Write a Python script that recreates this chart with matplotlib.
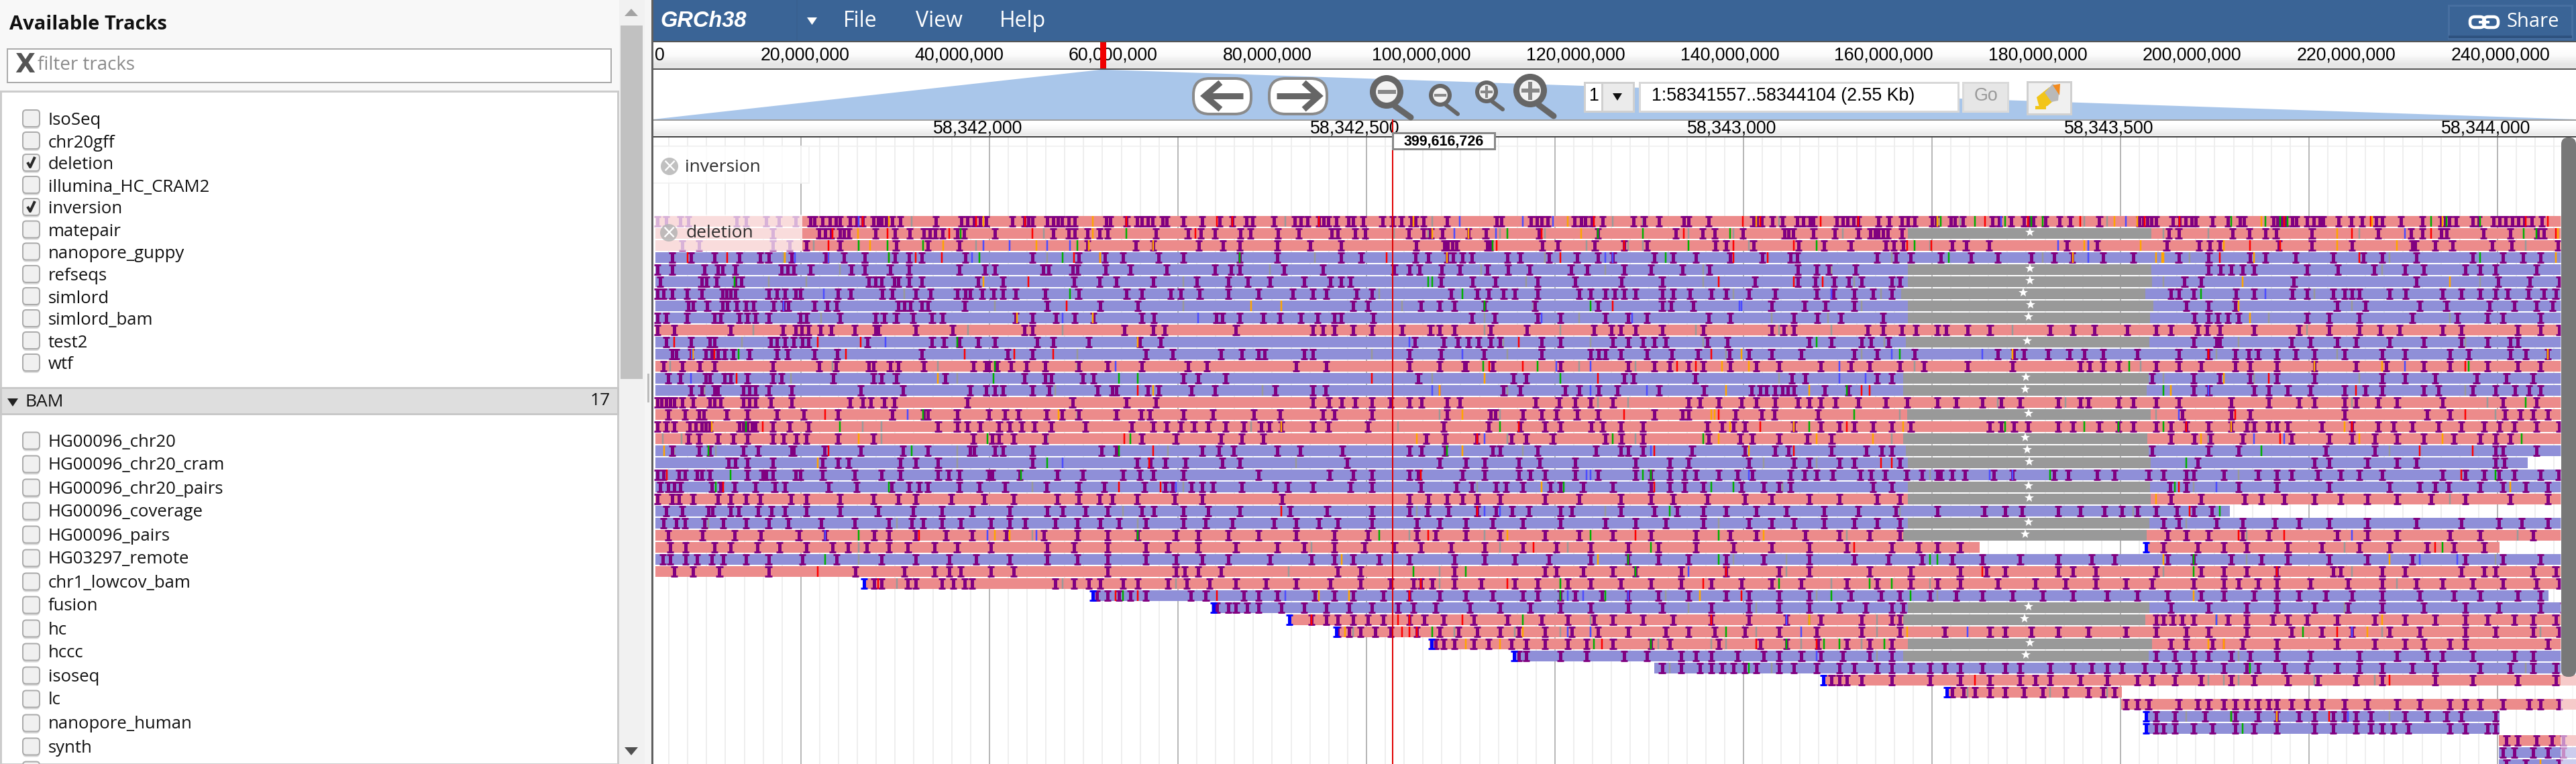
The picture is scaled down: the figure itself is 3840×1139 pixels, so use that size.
import numpy as np
import matplotlib
matplotlib.use('Agg')
import matplotlib.pyplot as plt
from matplotlib.patches import Rectangle, FancyBboxPatch, Circle, Polygon

# ---- data, positions are bp from VIEW_START
VIEW_START = 58341557
VIEW_END = 58344104
GENOME_TICKS = [0, 20000000, 40000000, 60000000, 80000000, 100000000, 120000000,
                140000000, 160000000, 180000000, 200000000, 220000000, 240000000]
SCALE_TICKS = [58342000, 58342500, 58343000, 58343500, 58344000]
CURSOR_LABEL = '399,616,726'
LOCATION = '1:58341557..58344104 (2.55 Kb)'

TRACKS = ['IsoSeq', 'chr20gff', 'deletion', 'illumina_HC_CRAM2', 'inversion', 'matepair',
          'nanopore_guppy', 'refseqs', 'simlord', 'simlord_bam', 'test2', 'wtf']
CHECKED = ['deletion', 'inversion']
BAM_TRACKS = ['HG00096_chr20', 'HG00096_chr20_cram', 'HG00096_chr20_pairs', 'HG00096_coverage',
              'HG00096_pairs', 'HG03297_remote', 'chr1_lowcov_bam', 'fusion', 'hc', 'hccc',
              'isoseq', 'lc', 'nanopore_human', 'synth']

# row, strand, start, end
READS = [(0,'r',0,2548),(1,'r',0,2548),(2,'r',0,2548),(3,'b',0,2548),(4,'b',0,2548),(5,'b',0,2548),
         (6,'b',0,2548),(7,'b',0,2548),(8,'b',0,2548),(9,'r',0,2548),(10,'b',0,2548),(11,'b',0,2548),
         (12,'r',0,2548),(13,'b',0,2548),(14,'b',0,2548),(15,'r',0,2548),(16,'r',0,2548),(17,'r',0,2548),
         (18,'r',0,2548),(19,'b',0,2548),(20,'b',0,2483),(21,'b',0,2548),(22,'b',0,2548),(23,'r',0,2548),
         (24,'b',0,2088),(25,'b',0,2548),(26,'r',0,2548),(27,'r',0,1756),(27,'r',1975,2446),(28,'b',0,2548),
         (29,'r',0,2548),(30,'r',275,2548),(31,'b',578,2511),(32,'b',738,2548),(33,'r',839,2548),
         (34,'r',901,2548),(35,'r',1027,2548),(36,'b',1137,2548),(37,'b',1325,2548),(38,'r',1547,2548),
         (39,'r',1711,1945),(40,'r',1944,2548),(41,'b',1975,2446),(42,'b',1975,2446),(43,'r',2445,2548),
         (44,'b',2445,2548),(45,'b',2445,2548)]
READ_CAPS = [(27,1975),(30,275),(31,578),(32,738),(33,839),(34,901),(35,1027),(36,1137),
             (38,1547),(39,1711),(41,1975),(42,1975)]
# row, deletion start, deletion end
DELETIONS = [(1,1661,1984),(4,1661,1984),(5,1661,1985),(6,1652,1976),(7,1661,1987),(8,1661,1982),
             (10,1658,1981),(13,1655,1980),(14,1655,1978),(16,1660,1983),(18,1655,1979),(19,1658,1980),
             (20,1661,1983),(22,1661,1982),(23,1661,1983),(25,1661,1981),(26,1655,1978),(32,1661,1981),
             (33,1655,1976),(35,1661,1985),(36,1655,1980)]

INSERTIONS = [
 [3,14,33,44,108,120,147,164,186,206,211,222,231,239,245,258,267,275,289,295,300,306,314,325,372,406,414,423,431,439,473,489,495,500,520,528,534,539,548,556,598,603,625,639,645,653,659,673,678,700,725,748,765,784,792,820,848,856,865,880,886,892,903,919,925,939,964,978,989,1003,1008,1019,1050,1116,1122,1161,1169,1175,1183,1219,1228,1233,1242,1256,1297,1311,1331,1364,1370,1397,1456,1461,1467,1481,1495,1514,1522,1531,1536,1567,1575,1581,1589,1595,1622,1636,1653,1661,1670,1693,1698,1718,1723,1734,1773,1782,1798,1815,1822,1827,1843,1862,1876,1915,1968,1973,1979,1984,1990,2012,2021,2029,2037,2043,2065,2085,2101,2107,2146,2151,2157,2162,2171,2176,2190,2199,2207,2212,2232,2249,2263,2282,2290,2315,2343,2368,2374,2379,2388,2410,2418,2438,2446,2454,2463,2471,2479,2488,2502],
 [156,217,225,233,245,250,256,292,318,337,356,364,371,381,400,409,450,528,548,556,573,589,600,664,706,723,742,776,789,826,853,897,905,928,941,999,1019,1028,1044,1078,1101,1172,1250,1353,1389,1405,1442,1497,1503,1509,1536,1564,1595,1611,1617,1622,1628,1634,1653,2007,2020,2092,2114,2135,2149,2197,2285,2328,2343,2368,2375,2424,2460,2496,2504],
 [36,58,156,178,200,245,319,361,403,573,637,660,721,753,775,825,868,909,1009,1046,1051,1057,1062,1103,1107,1176,1197,1246,1285,1315,1406,1420,1456,1516,1550,1585,1632,1642,1655,1720,1738,1769,1872,1912,2004,2047,2061,2075,2153,2197,2250,2330,2334,2360,2383,2436,2462,2523],
 [22,47,78,111,139,150,181,226,250,278,278,318,336,353,411,500,561,596,620,667,700,775,825,909,936,1008,1025,1050,1058,1070,1083,1130,1147,1185,1222,1250,1270,1325,1350,1380,1425,1468,1505,1514,1620,1645,1665,1705,1745,1780,1825,1855,1879,1920,1960,2020,2060,2115,2135,2175,2225,2265,2290,2335,2410,2450,2477,2500],
 [3,22,65,83,89,106,167,175,183,206,260,278,311,336,403,437,450,514,521,553,560,597,630,678,742,763,775,834,885,980,1000,1013,1043,1067,1103,1131,1159,1214,1236,1285,1320,1362,1398,1515,1540,1556,1592,2060,2076,2090,2105,2120,2190,2231,2279,2320,2345,2400,2420,2440,2495],
 [6,61,68,81,106,114,283,292,300,317,322,336,353,428,461,555,589,611,660,718,760,786,815,860,895,909,922,1042,1084,1114,1170,1220,1281,1335,1458,1515,1538,1563,1583,1600,1640,1650,1668,1690,2028,2050,2173,2335,2444,2486,2525],
 [3,11,22,42,61,89,94,100,106,150,161,172,186,192,242,259,301,314,345,365,400,411,417,433,448,461,478,517,561,625,645,683,697,722,760,800,845,872,890,930,950,1055,1090,1105,1125,1140,1170,1225,1240,1260,1272,1285,1300,1335,1350,1372,1400,1420,1450,1485,1540,1562,1590,1615,1640,1690,1790,1812,2010,2020,2040,2096,2120,2171,2190,2225,2240,2250,2260,2300,2321,2370,2395,2420,2440,2456,2484,2504,2520],
 [44,50,69,89,95,108,120,130,157,170,176,211,228,240,322,330,338,353,361,410,520,590,640,925,945,1015,1040,1060,1100,1166,1250,1335,1347,1376,1480,1524,1552,1590,2030,2060,2095,2230,2268,2340,2375,2432,2465,2495,2516],
 [3,14,42,78,86,111,122,133,150,192,200,245,292,303,319,342,367,381,478,500,531,556,581,645,661,744,752,775,806,828,856,878,900,909,952,1083,1113,1170,1200,1260,1290,1315,1397,1425,1510,1541,1572,1628,2041,2060,2072,2085,2100,2190,2220,2260,2330,2390,2430,2450,2500],
 [3,25,100,169,186,194,203,219,233,264,292,295,345,394,489,500,622,660,675,770,872,885,900,925,950,990,1028,1040,1060,1108,1156,1245,1268,1280,1300,1335,1390,1480,1496,1510,1608,1628,1653,1672,1700,1712,1740,1770,1850,1880,1908,1952,1990,2010,2045,2058,2075,2120,2180,2220,2260,2287,2313,2370,2395,2470,2500,2525],
 [14,47,72,78,153,161,172,183,195,203,281,367,383,403,428,450,506,528,575,642,670,1007,1045,1064,1078,1092,1108,1120,1175,1200,1270,1290,1310,1325,1340,1395,1422,1530,1560,1600,1612,1635,1675,1700,1710,1775,1825,1860,1900,1930,1965,2040,2070,2075,2170,2195,2230,2255,2300,2345,2395,2430,2460,2470],
 [22,28,47,67,75,83,92,103,125,161,175,211,241,353,467,500,650,686,750,778,800,808,860,872,1000,1042,1099,1175,1175,1240,1251,1260,1280,1315,1348,1383,1424,1450,1480,1520,1590,1620,1670,1780,1802,1815,1847,1875,1895,1920,1965,2020,2060,2095,2113,2125,2150,2175,2200,2240,2290,2320,2380,2405,2460,2480,2510],
 [11,36,59,78,156,217,239,283,289,311,322,356,442,422,439,453,472,492,517,561,600,645,706,731,850,890,1000,1040,1073,1075,1110,1200,1290,1325,1345,1370,1390,1425,1460,1490,1545,1585,1610,1650,1682,1740,1800,1890,1902,1920,1940,1990,2020,2050,2095,2115,2150,2200,2255,2295,2345,2380,2430,2470,2500],
 [17,33,67,72,92,100,122,156,167,236,289,300,319,384,489,517,525,567,581,700,720,756,1012,1138,1155,1285,1297,1379,1507,1525,1620,1640,1659,1665,1745,1790,1820,1855,1875,1922,1960,1985,2040,2075,2115,2150,2200,2290,2320,2360,2415,2455,2490],
 [47,61,78,83,117,125,133,150,181,272,328,417,439,450,461,500,522,586,606,611,653,667,711,742,822,872,889,1125,1147,1206,1225,1251,1276,1331,1391,1454,1465,1473,1485,1495,1502,1510,1551,1582,1660,1720,1730,1765,1790,1812,1835,1860,1870,1960,2040,2060,2120,2140,2165,2195,2240,2268,2290,2345,2365,2410,2440,2466,2485,2500],
 [3,8,14,20,25,36,50,72,78,86,117,125,133,153,181,258,275,286,303,317,414,553,625,664,872,893,910,928,950,975,1000,1016,1050,1067,1167,1198,1220,1240,1270,1370,1385,1410,1440,1460,1485,1515,1530,1545,1565,1595,1632,1660,1700,1725,1760,1785,1810,1860,1890,1900,1940,1960,1990,2020,2090,2140,2180,2200,2240,2255,2285,2310,2370,2450,2495,2550],
 [17,39,58,64,94,122,161,197,242,314,314,356,361,400,442,464,481,519,539,561,611,644,656,700,739,794,828,885,900,950,1050,1108,1114,1150,1175,1195,1222,1250,1325,1362,1370,1432,1467,1484,1542,2025,2090,2115,2240,2350,2380,2453,2473,2490,2510],
 [3,14,25,45,53,61,67,72,111,117,122,128,133,156,178,203,375,400,414,431,456,470,486,503,525,570,632,660,678,697,714,733,756,780,803,814,830,872,892,945,1045,1105,1147,1180,1200,1241,1256,1280,1310,1395,1415,1430,1445,1510,1545,1570,1590,1615,1640,1665,1770,1770,1785,1802,1820,1860,1880,1915,1940,1960,1990,2010,2030,2060,2090,2110,2120,2140,2150,2165,2210,2250,2285,2305,2330,2365,2395,2425,2446,2465,2495,2525],
 [44,58,83,103,122,156,170,187,200,242,289,422,447,456,475,517,645,690,750,778,806,1022,1047,1089,1135,1155,1190,1260,1281,1310,1397,1439,1455,1490,1528,1560,2010,2041,2062,2105,2170,2220,2250,2280,2310,2345,2385,2420,2440,2460],
 [22,58,72,117,136,181,183,224,272,328,361,417,423,450,461,500,592,611,725,747,767,825,855,911,1000,1016,1047,1110,1120,1170,1247,1280,1290,1310,1375,1445,1485,1503,1560,1606,1626,1640,1672,1760,1810,1830,1880,1910,1985,2060,2100,2215,2280,2440,2450,2495],
 [97,106,122,156,222,242,256,325,345,375,500,639,657,676,703,752,775,917,1040,1075,1100,1145,1173,1220,1300,1345,1370,1450,1510,1530,1570,1590,1650,1706,1730,1768,1874,1922,2045,2200,2220,2270,2310,2335,2440,2452],
 [3,11,31,39,55,61,72,122,142,147,156,186,192,222,264,300,325,375,389,403,442,447,483,533,567,620,642,660,700,800,894,925,950,1000,1012,1070,1100,1145,1160,1180,1220,1250,1300,1320,1345,1365,1380,1410,1435,1455,1505,1524,1540,1561,1598,1612,1631,1659,1680,1700,1705,1720,1737,1775,1800,1855,1874,1912,1935,1980,2000,2030,2040,2080,2125,2150,2170,2205,2235,2260,2290,2370,2400,2425,2445,2465,2500,2524],
 [6,17,25,33,75,86,105,133,158,172,230,267,313,336,350,361,403,430,464,519,561,595,649,676,686,711,725,739,778,822,839,872,922,950,1015,1062,1083,1115,1128,1150,1187,1200,1230,1270,1320,1345,1365,1390,1440,1470,1490,1505,1615,1640,1668,1710,1727,1782,1860,1925,1970,2009,2030,2100,2150,2220,2300,2340,2360,2378,2420,2450,2480,2510],
 [3,22,31,50,83,100,120,139,180,200,245,289,322,345,392,436,475,533,561,589,606,639,689,725,831,1000,1025,1050,1070,1090,1120,1180,1225,1280,1320,1350,1395,1445,1480,1530,1570,1620,1650,1670,1710,1755,1790,1810,1830,1870,1890,1915,1945,1970,2010,2050,2108,2130,2160,2200,2235,2270,2310,2355,2400,2460,2510],
 [14,36,70,76,100,110,136,154,172,200,245,295,342,380,420,470,520,540,570,600,645,661,700,733,775,842,891,950,1000,1024,1052,1090,1115,1136,1158,1200,1215,1280,1325,1355,1390,1420,1460,1500,1550,1595,1645,1700,1762,1790,1812,1860,1890,1922,1945,1965,1990,2018,2040,2064],
 [11,28,39,65,90,120,150,176,220,264,310,340,355,380,405,445,470,490,530,560,590,615,650,700,730,765,820,850,880,905,950,1010,1040,1075,1110,1150,1200,1260,1300,1340,1390,1450,1480,1510,1550,1590,1620,1650,2000,2020,2070,2105,2148,2180,2220,2270,2335,2395,2445,2475,2510],
 [17,62,105,140,190,225,290,310,345,385,420,465,515,560,600,640,690,720,760,800,850,900,945,1010,1035,1075,1120,1180,1225,1270,1320,1380,1425,1460,1525,1570,1610,1650,2005,2030,2060,2105,2140,2230,2270,2310,2380,2420,2490],
 [20,40,78,100,135,165,200,235,255,280,310,335,370,400,445,520,555,600,650,680,720,770,825,860,900,940,980,1015,1055,1100,1150,1195,1240,1290,1330,1380,1430,1480,1530,1580,1640,1675,1700,1730,2000,2045,2080,2110,2165,2210,2260,2300,2350,2385,2425],
 [10,20,40,55,75,90,120,150,195,240,300,345,390,425,470,520,560,600,650,690,725,760,815,870,900,925,960,1000,1060,1100,1140,1185,1240,1290,1330,1370,1420,1470,1530,1590,1635,1680,1720,1760,1810,1860,1905,1935,2005,2040,2090,2130,2165,2220,2270,2330,2400,2450,2500],
 [25,50,85,150,265,330,370,390,405,445,475,600,690,702,720,750,905,935,1060,1180,1195,1230,1270,1300,1360,1420,1490,1530,1610,1665,1730,1765,1790,1860,1880,1910,1990,2050,2080,2110,2150,2225,2235,2290,2320,2395,2425,2440,2490,2520],
 [1015,290,300,335,345,380,395,410,420,530,555,575,590,620,640,680,705,735,770,810,850,895,935,975,1005,1030,1060,1095,1140,1170,1210,1240,1280,1320,1360,1400,1440,1480,1520,1580,1620,1665,1700,1730,1780,1830,1870,1910,1950,1985,2040,2080,2100,2125,2150,2195,2245,2290,2335,2370,2410,2450,2495,2525],
 [585,600,615,630,650,710,730,780,800,825,875,900,925,965,1000,1040,1075,1110,1150,1170,1200,1220,1255,1290,1330,1370,1420,1450,1490,1530,1585,1625,1650,1690,1725,1760,1800,1840,1880,1925,1965,2005,2050,2080,2120,2150,2180,2215,2250,2290,2340,2385,2420,2470,2500],
 [745,760,770,785,800,830,860,890,920,950,985,1005,1035,1080,1120,1160,1200,1240,1290,1335,1400,1450,1490,1530,1570,1605,1640,1655,2010,2060,2110,2150,2200,2245,2290,2345,2400,2445,2500,2530],
 [870,890,905,925,945,965,1000,1020,1045,1085,1130,1175,1210,1245,1270,1310,1350,1400,1450,1500,1545,1600,1640,1650,1990,2000,2012,2025,2040,2085,2110,2145,2165,2190,2230,2280,2320,2360,2400,2430,2465,2490,2520],
 [905,920,935,955,975,1010,1040,1065,1090,1120,1145,1180,1215,1250,1290,1340,1370,1405,1445,1490,1540,1600,1650,1710,1770,1790,1825,1860,1900,1950,1990,2030,2060,2110,2170,2210,2250,2300,2340,2400,2440,2490,2525],
 [1035,1045,1060,1085,1105,1135,1155,1180,1210,1235,1270,1320,1345,1410,1465,1500,1542,1580,1610,1640,2010,2030,2065,2105,2150,2230,2280,2320,2345,2380,2400,2510],
 [1145,1155,1200,1235,1285,1315,1360,1380,1400,1435,1470,1490,1520,1545,1575,1610,1640,1990,2015,2040,2060,2090,2115,2150,2195,2260,2310,2350,2370,2410,2465,2490],
 [1335,1360,1385,1400,1415,1430,1445,1460,1490,1510,1540,1570,1590,1620,1640,1665,1690,1710,1730,1760,1790,1810,1850,1880,1905,1925,1945,1975,2000,2020,2040,2080,2110,2125,2160,2190,2230,2260,2290,2330,2360,2420,2460,2490,2520],
 [1560,1570,1580,1600,1640,1690,1730,1770,1810,1830,1850,1890,1925,1965,1985,2015,2050,2090,2120,2165,2205,2255,2290,2360,2410,2470,2520],
 [1720,1735,1750,1770,1790,1815,1840,1870,1900,1920,1935],
 [1950,1965,1980,2020,2045,2060,2080,2095,2110,2125,2140,2150,2170,2190,2210,2240,2270,2310,2340,2380,2400,2420,2450,2485,2500,2525],
 [1990,2015,2055,2095,2125,2150,2180,2200,2225,2240,2255,2275,2320,2350,2375,2395,2440],
 [1990,2000,2015,2040,2065,2095,2120,2150,2200,2225,2255,2275,2290,2305,2325,2380,2400,2430,2440],
 [2455,2470,2495,2515,2530],
 [2450,2465,2490,2510,2530],
 [2455,2480,2525],
]

SNP_RED = {0:[275,425,490,625,745,765,880,1005,1245,1442,1465,1545,1595,1763,1820,1890,1975,2021,2160,2275,2480,2510],
           1:[235,308,390,500,716,1175,1364,2250,2355,2520],2:[230,1116,1285,1430,1510,1660,1692,2115,2155],
           3:[43,95,310,345,380,555,590,970,1200,1430,1475,2075,2260],5:[495,1410,1510,1548],
           7:[545,1740,1270],10:[25,215,272,1145,1750],11:[47,78,253,410,476,528,1400,2060],
           12:[1106,1150,1355,1380,2400],13:[108,950,1250,2140],14:[640,1040,1610,1600,2255],
           16:[225,1285,1410,2095,2400],17:[142,1145,1465,1580,2030,2250],18:[622,1090,1980,2155],
           19:[230,660,1325,1510,2340,2410],20:[655,1640,1625],21:[15,1015,2395],22:[90,615,670,1325,2020],
           24:[2035,830,1090],26:[350,1025,1300,2100,2160],27:[1590,1165,2360],29:[215,1420,1760,2150],
           30:[295,1015,1130,1390],31:[610,640,745,1000,1440],33:[870,985,1000,1070,1400],34:[990,1000,1010,2230],
           35:[1255,1460,1540,2080],38:[1750,2300],41:[2090,2220]}
SNP_GREEN = {0:[1700,1705,1750,1790,1825,1840,2090,2135,2155,2165,2355,2375,2420],1:[405,625,1130,1250,1310,1425,1960,2478,2495],
             2:[270,308,355,560,1110,1370,1540,1670],3:[310,430,540,775,1340,1715,2420],5:[105,1025,1030,1725],
             6:[1070,550,2050],7:[1100,1240],10:[400,1540],11:[110,1650],12:[450,1098,1170,1955,2405],13:[448,615,640,1200],
             14:[1580,2000],15:[2480],16:[355,1590],17:[120,245,1120,1530,1790,1895,1940,2000],18:[440,630,1270,1390,1845,2475],
             19:[70,340,615,1745,1050,2130],20:[520,2030],21:[100,485,1310,1320,1850,2440],22:[80,310,1205,1430,1400,2015],
             24:[1345,2075,2120],26:[270,640,960,1240,1410,1830],27:[1320,2370,2480],28:[225,1290,1410,1690,1700,2040],
             29:[1005,1075,1300,2040],30:[1200,1490,1610,1640],31:[620,1200,1260,1665,1560],33:[1150,1530,1740,2070],
             34:[1030,1420,2185],35:[1245,1320,1500,1630,1550,1570],37:[1450,2115],41:[2090],42:[2105]}
SNP_ORANGE = {0:[310,435,580,1005,1210,1460,1700,1935,1965,2130,2277,2370],1:[269,580,1030,1078,1228,2230,2523],2:[285,382,505,575,660,1970,1895,2080,2230,2310],
              3:[172,230,590,1050,1880,1990,1998,2000,2120,2520],5:[435,2105,2380],7:[790,830,1750,1925,2100,1930],
              8:[480,580,2115],10:[640,1680],11:[50,1440,1800,2510],12:[1415,1450,2200,2290],13:[375,1100,2080],
              14:[660,1040,1420,1530,1780,2010],16:[535,1070,1400,1405],17:[75,830,1425,1510,1655,2090,2240],
              18:[270,1010,1410,1540,1615,1690,2050,2260,2370],19:[12,1070,1450,1700],20:[215,1760,1800,1800],
              22:[1175,1770,2460],23:[1990],26:[450,470,1130,1470],28:[910,1250,2000,2300],31:[920,880,1385,2040],
              33:[1530,1825,1740,2290],34:[915,1150,1660,2270],35:[1075,1120,2060,2080],41:[2150],45:[2500]}
SNP_BLUE = {0:[270,1067,1150,1190,1785,1950],1:[1060,1115,1725,2320],2:[435,470,520,550,1860,1900],3:[185,230,420,1260,1270,1900],
            6:[223,1560,2135],7:[170,1438,1440],8:[540,720,1175,1295,1870],10:[305,1000],11:[48,1070,1640,1760],
            12:[610,1195,1240,1570,2320],13:[47,1570,1605,1830],14:[1030,1240,1315,2060],16:[335,2020],18:[1100,1780,2120,2160],
            19:[1320,1935],20:[540],21:[1240,1235,1770,1800,1450],22:[690,2070],24:[1100,1120],26:[225,440,505,2250],
            28:[2340,2390],29:[1370],31:[835,1210,1230,1290],33:[1500,1875,2070],34:[1210,1240,1520,1740,2250],36:[1540],41:[2245]}
GRAY_TICKS = {0:[340,640,835,1030,1185,1210,1270,1310,1490,1730,1895,1925],1:[515,980,1025,1180,1115,1120,1370,1430,1575,2000,2060,2260],
              2:[210,270,425,720,1235,1290,1310,1450,1690,1770,1900,2480],3:[170,520,700,875,1180,1640,1840,2035,2300],
              4:[245,815,1095,1260,1390,1560,2290,2400],5:[150,200,700,1155,1390,1590,2000,2420],6:[330,960,1430,1540,1625,2200],
              7:[450,700,990,1165,1480,1600,1990,2250],8:[220,1100,1225,1480,1555,2140,2380],9:[130,415,540,1100,1200,1380,1490,1560,1770,1800,2190],
              10:[115,400,1125,1240,1390,1630,2100,2400],11:[240,560,950,1130,1420,1600,2070,2230],12:[20,235,375,560,1225,1300,1670,1970],
              13:[180,400,1030,1490,1670,2000,2120,2260],14:[65,530,805,1130,1610,2010,2400],15:[1250,1290,1530,1780,1870,2250,2430],
              16:[560,740,950,1040,1120,1250,1650,1990,2440],17:[205,275,300,790,985,1180,1545],18:[10,35,300,520,1130,1300,1640,1900,2060,2220],
              19:[25,80,400,680,1000,1150,1640,1970,2300],20:[400,850,1470,1540],21:[300,1100,1250,1690,2100],22:[500,700,1090,1495,2040,2480],
              23:[1530,1800,2050,2380],24:[620,1000,1010,1160,1260,1650,1960],25:[70,320,640,1300,1410,2030],26:[500,1000,1100,1580,2110,2470],
              27:[270,870,1120,1195,1210,1640,2240],28:[270,1000,1430,1500,1690,2110,2440],29:[840,1040,1500,2000,2080,2250],
              30:[320,540,690,1040,1200,1560,1690,2310],31:[780,900,1340,1420,1540,1700,2050],32:[950,1370,1460,1680,2240],
              33:[1020,1000,1240,1270,1620,2400],34:[925,1060,1140,1200,1240,1290,1460,1620,2290,2500],
              35:[1270,1330,1400,1420,1520,1600,1640,2380],36:[1470,1490,1620,1910,2100],37:[1345,1480,1640,1760,2420,2480],38:[1570,1690,1810,2060,2080,2100,2200,2280],
              39:[1740,1850,1925],40:[2150,2400],41:[2030,2300],42:[2200]}

ROW_H = 16 / 18.0
COL_STRAND = {'r': '#EC8B8B', 'b': '#8F8FD8'}
PURPLE = '#800080'
FONT_UI = 'Open Sans'
FONT_NUM = 'Liberation Sans'
W, H = 3841, 1139


def px(n):
    # pixels to points at dpi 100
    return n * 0.72


def on_read(row, xs):
    # drop marks that fall in a deletion or outside the read
    keep = []
    spans = [(s, e) for r, _, s, e in READS if r == row]
    gaps = [(s, e) for r, s, e in DELETIONS if r == row]
    for x in xs:
        inside = any(s <= x <= e for s, e in spans)
        gone = any(s - 3 <= x <= e + 3 for s, e in gaps)
        if inside and not gone:
            keep.append(x)
    return np.array(keep)


fig = plt.figure(figsize=(W / 100.0, H / 100.0), dpi=100, facecolor='white')


def axes_px(x0, y0, x1, y1, **kw):
    return fig.add_axes([x0 / W, 1 - y1 / H, (x1 - x0) / W, (y1 - y0) / H], **kw)


# ---- pileup
ax = axes_px(973, 205, 3841, 1139, zorder=1)
ax.set_xlim(-3.5, 2548)
ax.set_ylim(44.94, -6.94)
for s in ax.spines.values():
    s.set_visible(False)
ax.set_yticks([])
first = VIEW_START - VIEW_START % 25 + 25
grid_bp = np.arange(first, VIEW_END + 1, 25) - VIEW_START
major_bp = [b for b in grid_bp if (b + VIEW_START) % 250 == 0]
ax.set_xticks(major_bp)
ax.set_xticks(grid_bp, minor=True)
ax.tick_params(which='both', length=0, labelbottom=False)
ax.xaxis.grid(True, which='minor', color='#EEEEEE', lw=px(2))
ax.xaxis.grid(True, which='major', color='#B8B8B8', lw=px(2))
ax.set_axisbelow(True)
ax.axhline(-6.2, color='#F2F2F2', lw=px(2), zorder=0.5)

for row, strand, start, end in READS:
    ax.barh(row, end - start, left=start, height=ROW_H, color=COL_STRAND[strand], lw=0, zorder=2)

for row, ticks in GRAY_TICKS.items():
    ax.vlines(on_read(row, ticks), row - ROW_H / 2, row + ROW_H / 2, color='#999999', lw=px(2.5), zorder=2.5,
              capstyle='butt')

for row, del_start, del_end in DELETIONS:
    ax.barh(row, del_end - del_start, left=del_start, height=ROW_H, color='#999999', lw=0, zorder=3)

cap_off = ROW_H / 2 - 0.075
for row, xs in enumerate(INSERTIONS):
    xs = on_read(row, xs)
    ax.vlines(xs, row - ROW_H / 2, row + ROW_H / 2, color=PURPLE, lw=px(5), zorder=4, capstyle='butt')
    for y in (row - cap_off, row + cap_off):
        ax.hlines(np.full(len(xs), y), xs - 4.5, xs + 4.5, color=PURPLE, lw=px(2.8), zorder=4, capstyle='butt')

for snps, col in ((SNP_RED, '#FF0000'), (SNP_GREEN, '#00B000'), (SNP_ORANGE, '#FFA500'), (SNP_BLUE, '#4C4CFF')):
    for row, xs in snps.items():
        ax.vlines(on_read(row, xs), row - ROW_H / 2, row + ROW_H / 2, color=col, lw=px(2.5), zorder=5, capstyle='butt')

for row, x in READ_CAPS:
    ax.vlines(x + 2, row - ROW_H / 2, row + ROW_H / 2, color='#0000FF', lw=px(5), zorder=6, capstyle='butt')
    for y in (row - cap_off, row + cap_off):
        ax.hlines(y, x - 2.5, x + 6.5, color='#0000FF', lw=px(2.8), zorder=6, capstyle='butt')

for row, del_start, del_end in DELETIONS:
    ax.plot((del_start + del_end) / 2, row - 0.12, marker='*', ms=px(15), color='white', mew=0, zorder=7)

# ---- overview ruler
ov = axes_px(973, 63, 3841, 102, zorder=2)
ov.imshow([[1.0], [0.98], [0.9]], cmap='gray', vmin=0, vmax=1, aspect='auto',
          extent=(0.26e6, 249.9e6, 0, 1), interpolation='bilinear')
ov.set_xlim(0.26e6, 249.9e6)
ov.set_ylim(0, 1)
ov.axis('off')
for t in GENOME_TICKS:
    ov.text(t + (1.2e6 if t == 0 else 0), 0.5, format(t, ','), ha='center', va='center',
            fontsize=19.3, family=FONT_NUM, color='black')
ov.bar(VIEW_START + 0.35e6, 1, width=0.75e6, bottom=0, color='#F00000', zorder=4)

# ---- scale ruler
sc = axes_px(973, 180, 3841, 203, zorder=2)
sc.imshow([[1.0], [0.97], [0.92]], cmap='gray', vmin=0, vmax=1, aspect='auto',
          extent=(-3.5, 2548, 0, 1), interpolation='bilinear')
sc.set_xlim(-3.5, 2548)
sc.set_ylim(0, 1)
sc.axis('off')
for t in SCALE_TICKS:
    sc.text(t - VIEW_START - 15, 0.48, format(t, ','), ha='center', va='center',
            fontsize=19.3, family=FONT_NUM, color='black', clip_on=False)

# ---- browser chrome drawn in pixel coordinates
ui = fig.add_axes([0, 0, 1, 1], zorder=3)
ui.set_xlim(0, W)
ui.set_ylim(H, 0)
ui.axis('off')


def rect(x0, y0, x1, y1, fc, ec='none', lw=0, z=1, alpha=None):
    ui.add_patch(Rectangle((x0, y0), x1 - x0, y1 - y0, fc=fc, ec=ec, lw=px(lw), zorder=z, alpha=alpha))


def rbox(x0, y0, x1, y1, r, fc, ec='none', lw=0, z=2):
    ui.add_patch(FancyBboxPatch((x0 + r, y0 + r), x1 - x0 - 2 * r, y1 - y0 - 2 * r,
                                boxstyle='round,pad=%f,rounding_size=%f' % (r, r),
                                fc=fc, ec=ec, lw=px(lw), zorder=z))


# sidebar
rect(0, 0, 923, 136, '#F8F8F8')
rect(1, 136, 921, H, 'white', ec='#CCCCCC', lw=3)
rect(923, 0, 961, H, '#F1F1F1')
rect(961, 0, 972, H, '#F5F5F5')
rect(925, 38, 958, 565, '#C1C1C1', z=2)
ui.add_patch(Polygon([[931, 24], [951, 24], [941, 13]], fc='#A3A3A3', zorder=3))
ui.add_patch(Polygon([[931, 1114], [951, 1114], [941, 1126]], fc='#505050', zorder=3))
rect(965, 557, 968, 600, '#BBBBBB', z=2)
rect(971, 0, 974, H, '#5F5F5F', z=6)

ui.text(14, 36, 'Available Tracks', fontsize=21, fontweight='bold', family=FONT_UI, va='center', color='#111111')
rect(11, 73, 911, 123, 'white', ec='#ABABAB', lw=2, z=2)
ui.text(37, 97, 'X', fontsize=28, fontweight='bold', family='DejaVu Sans', color='#555555', ha='center', va='center', zorder=3)
ui.text(56, 97, 'filter tracks', fontsize=20, family=FONT_UI, color='#8A8A8A', va='center', zorder=3)


def checkbox(yc, checked=False):
    rbox(34, yc - 11, 59, yc + 15, 5, '#D9D9D9', z=2)
    rbox(34, yc - 13, 59, yc + 12, 5, '#F0F0F0', ec='#ABABAB', lw=2, z=3)
    if checked:
        ui.plot([41, 45, 52], [yc - 1, yc + 6, yc - 9], color='#2A2A2A', lw=px(4), zorder=4, solid_capstyle='butt')


TRACK_Y = [180, 213, 246, 279, 312, 345.5, 378.5, 412, 445, 478, 511, 544]
for name, y in zip(TRACKS, TRACK_Y):
    checkbox(y - 3, name in CHECKED)
    ui.text(72, y, name, fontsize=18.5, family=FONT_UI, color='#111111', va='center', zorder=3)

rect(1, 578, 921, 617, '#DEDEDE', ec='#C8C8C8', lw=3, z=2)
ui.add_patch(Polygon([[11, 594], [27, 594], [19, 606]], fc='#222222', zorder=3))
ui.text(37, 600, 'BAM', fontsize=19, family=FONT_UI, color='#111111', va='center', zorder=3)
ui.text(910, 597, '17', fontsize=19, family=FONT_UI, color='#111111', va='center', ha='right', zorder=3)

BAM_Y = [659, 694, 729, 764, 799, 834, 869, 904, 939, 974, 1009, 1044, 1080, 1115]
for name, y in zip(BAM_TRACKS, BAM_Y):
    checkbox(y - 1.5)
    ui.text(72, y, name, fontsize=18.5, family=FONT_UI, color='#111111', va='center', zorder=3)
checkbox(1148.5)

# header
rect(973, 0, W, 61, '#3A6496')
rect(973, 61, W, 63, '#555555', z=2)
rect(973, 102, W, 104, '#555555', z=2)
rect(973, 178, W, 180, '#9F9F9F', z=2)
rect(973, 203, W, 205, '#444444', z=2)
rect(1187, 0, 1189, 61, '#386090', z=2)
ui.text(984, 32, 'GRCh38', fontsize=23.5, family=FONT_NUM, style='italic', fontweight='bold', color='white', va='center', zorder=3)
ui.add_patch(Polygon([[1203, 26], [1218, 26], [1210.5, 37]], fc='white', zorder=3))
for label, x in (('File', 1257), ('View', 1365), ('Help', 1490)):
    ui.text(x, 31, label, fontsize=23, family=FONT_UI, color='white', va='center', zorder=3)
rect(3650, 8, 3834, 57, '#3A6496', ec='#476FA0', lw=3, z=2)
rect(3650, 53, 3834, 57, '#2E527F', z=3)
for x0 in (3682, 3702):
    rbox(x0, 25, x0 + 22, 41, 7, 'none', ec='white', lw=4.5, z=3)
rect(3695, 31, 3711, 35, 'white', z=4)
ui.text(3737, 32, 'Share', fontsize=21, family=FONT_UI, color='white', va='center', zorder=3)

# zoom trapezoid and navigation
ui.add_patch(Polygon([[973, 178], [1640, 104], [1650, 104], [W, 178]], fc='#A9C6EA', zorder=1))
rbox(1779, 117, 1865, 170, 24, 'white', ec='#8A8A8A', lw=4)
rbox(1892, 117, 1978, 170, 24, 'white', ec='#8A8A8A', lw=4)
ui.plot([1853, 1798], [143, 143], color='#666666', lw=px(9), zorder=3, solid_capstyle='butt')
ui.plot([1816, 1796, 1816], [126, 143, 160], color='#666666', lw=px(9), zorder=3, solid_joinstyle='miter')
ui.plot([1903, 1963], [143, 143], color='#666666', lw=px(9), zorder=3, solid_capstyle='butt')
ui.plot([1947, 1966, 1947], [126, 143, 160], color='#666666', lw=px(9), zorder=3, solid_joinstyle='miter')


def magnifier(cx, cy, r, hx, hy, plus):
    ui.plot([cx + r * 0.5, hx], [cy + r * 0.85, hy], color='#666666', lw=px(r * 0.36), zorder=3, solid_capstyle='round')
    ui.add_patch(Circle((cx, cy), r - r * 0.18, fc='#F2F2F2', ec='#666666', lw=px(r * 0.36), zorder=4))
    s = r * 0.42
    ui.plot([cx - s, cx + s], [cy, cy], color='#888888', lw=px(r * 0.24), zorder=5)
    if plus:
        ui.plot([cx, cx], [cy - s, cy + s], color='#888888', lw=px(r * 0.24), zorder=5)


magnifier(2067, 137, 25, 2103, 175, False)
magnifier(2147, 142, 17, 2173, 170, False)
magnifier(2216, 137, 17, 2240, 163, True)
magnifier(2281, 135, 25, 2316, 173, True)

# location controls
rect(2362, 123, 2388, 166, 'white', ec='#D0D0D0', lw=3, z=2)
rect(2388, 123, 2435, 166, '#EBEBEB', ec='#D0D0D0', lw=3, z=2)
ui.text(2376, 143, '1', fontsize=19.3, family=FONT_NUM, color='black', ha='center', va='center', zorder=3)
ui.add_patch(Polygon([[2404, 139], [2418, 139], [2411, 150]], fc='#111111', zorder=3))
rect(2444, 123, 2919, 166, 'white', ec='#D8D8D8', lw=3, z=2)
ui.text(2462, 143, LOCATION, fontsize=19.3, family=FONT_NUM, color='black', va='center', zorder=3)
rect(2926, 123, 2993, 166, '#E6E6E6', ec='#DADADA', lw=3, z=2)
ui.text(2960, 143, 'Go', fontsize=19.3, family=FONT_NUM, color='#999999', ha='center', va='center', zorder=3)
rect(3022, 122, 3087, 170, '#F0F0F0', ec='#D0D0D0', lw=3, z=2)
ui.add_patch(Polygon([[3040, 160], [3036, 145], [3055, 130], [3066, 146], [3052, 158]], fc='#F2C518', zorder=3))
ui.add_patch(Polygon([[3048, 138], [3060, 125], [3070, 130], [3068, 150], [3058, 152]], fc='#B9B9B9', zorder=4))
ui.add_patch(Polygon([[3060, 127], [3071, 125], [3070, 142]], fc='#F28A1E', zorder=5))
rect(3034, 158, 3050, 163, '#F2C518', z=3)

# cursor line and tooltip
rect(2075, 178, 2077, H, '#E00000', z=5)
rect(2076, 198, 2228, 222, 'white', ec='#888888', lw=3, z=6)
ui.text(2152, 210.5, CURSOR_LABEL, fontsize=15.5, family=FONT_NUM, fontweight='bold', color='black',
        ha='center', va='center', zorder=7)

# floating track labels
rect(973, 218, 1206, 273, 'white', ec='#F0F0F0', lw=2, z=2, alpha=0.8)
rect(973, 320, 1196, 374, 'white', z=2, alpha=0.7)
for label, cx, cy, tx in (('inversion', 998, 248, 1021), ('deletion', 997, 347, 1023)):
    ui.add_patch(Circle((cx, cy), 13, fc='#B5B5B5', ec='none', alpha=0.85, zorder=3))
    ui.text(cx, cy, '×', fontsize=20, color='white', ha='center', va='center', family='DejaVu Sans', zorder=4)
    ui.text(tx, cy + 1, label, fontsize=19, family=FONT_UI, color='#2B2B2B', va='center', zorder=4)

# pileup scrollbar
rect(3817, 205, W, H, 'white', z=2, alpha=0.55)
rbox(3818, 205, 3840, 1009, 10, '#787878', z=4)

fig.savefig('out.png', dpi=100)
